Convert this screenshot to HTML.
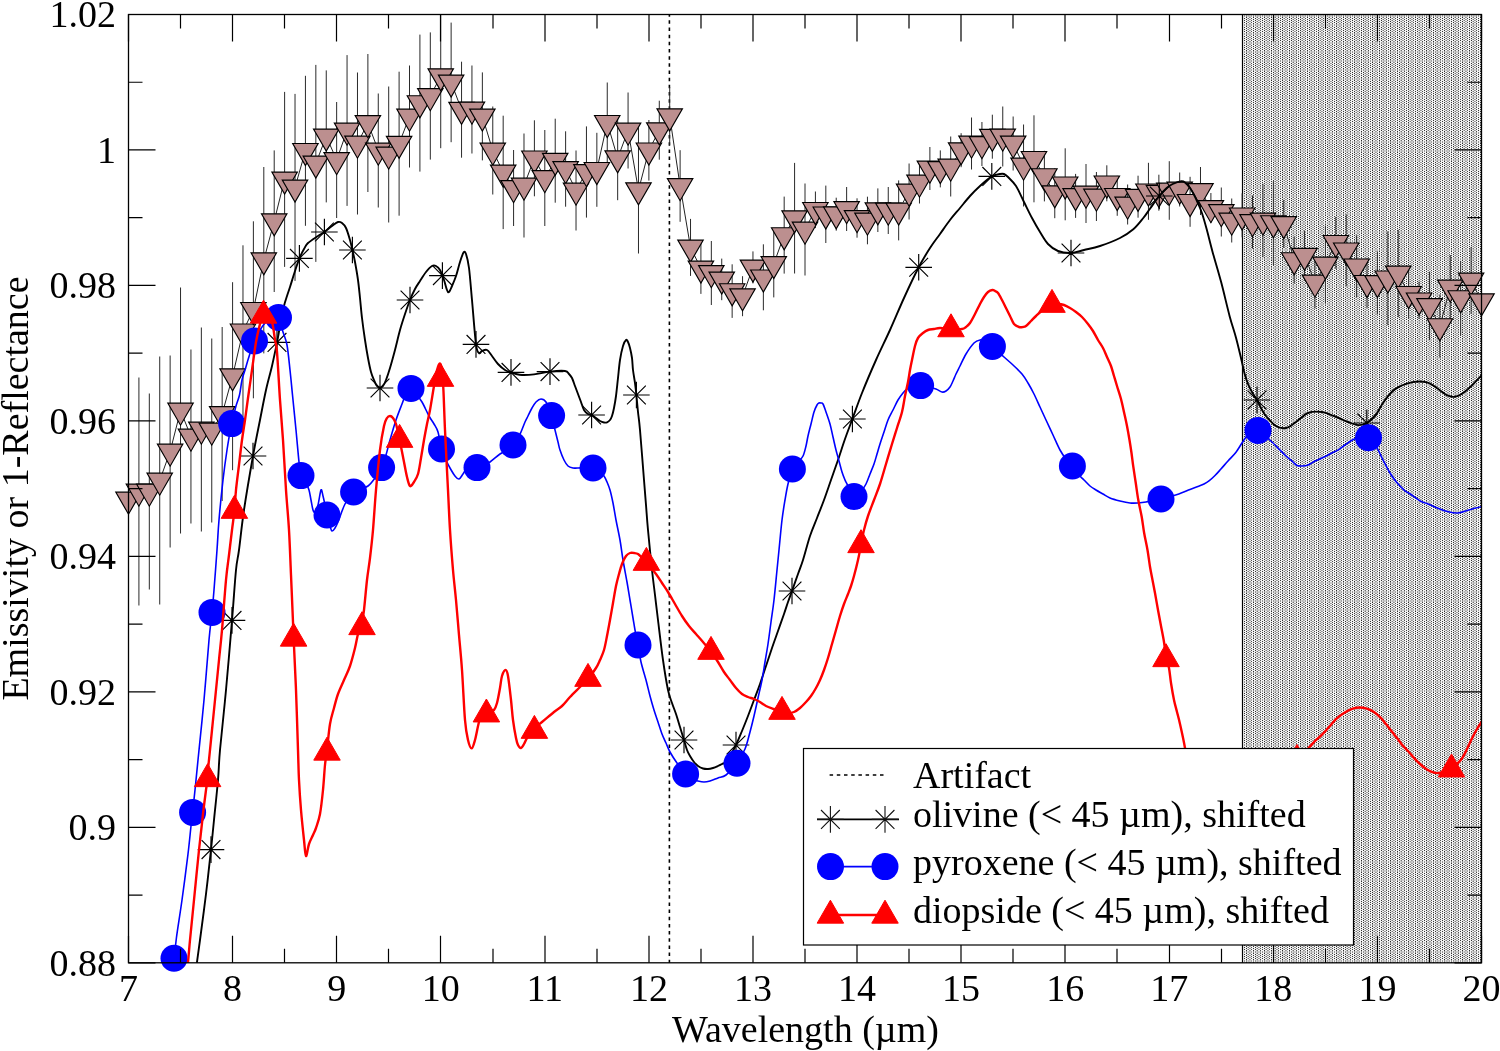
<!DOCTYPE html><html><head><meta charset="utf-8"><title>Emissivity spectrum</title><style>html,body{margin:0;padding:0;background:#fff;}svg{display:block;}text{font-family:"Liberation Serif","Times New Roman",serif;fill:#000;}</style></head><body>
<svg width="1500" height="1051" viewBox="0 0 1500 1051">
<defs>
<pattern id="dots" patternUnits="userSpaceOnUse" x="4" y="6" width="18" height="9" shape-rendering="crispEdges"><rect width="18" height="9" fill="#fff"/><rect x="0" y="0" width="1" height="1" fill="#939393"/><rect x="1" y="0" width="1" height="1" fill="#d7d7d7"/><rect x="2" y="0" width="1" height="1" fill="#b9b9b9"/><rect x="3" y="0" width="1" height="1" fill="#c4c4c4"/><rect x="4" y="0" width="1" height="1" fill="#cdcdcd"/><rect x="5" y="0" width="1" height="1" fill="#a7a7a7"/><rect x="6" y="0" width="1" height="1" fill="#f4f4f4"/><rect x="7" y="0" width="1" height="1" fill="#949494"/><rect x="8" y="0" width="1" height="1" fill="#f3f3f3"/><rect x="9" y="0" width="1" height="1" fill="#999999"/><rect x="10" y="0" width="1" height="1" fill="#d6d6d6"/><rect x="11" y="0" width="1" height="1" fill="#b5b5b5"/><rect x="12" y="0" width="1" height="1" fill="#c7c7c7"/><rect x="13" y="0" width="1" height="1" fill="#cfcfcf"/><rect x="14" y="0" width="1" height="1" fill="#a2a2a2"/><rect x="15" y="0" width="1" height="1" fill="#f4f4f4"/><rect x="16" y="0" width="1" height="1" fill="#9b9b9b"/><rect x="17" y="0" width="1" height="1" fill="#f3f3f3"/><rect x="0" y="1" width="1" height="1" fill="#939393"/><rect x="1" y="1" width="1" height="1" fill="#d7d7d7"/><rect x="2" y="1" width="1" height="1" fill="#b9b9b9"/><rect x="3" y="1" width="1" height="1" fill="#c4c4c4"/><rect x="4" y="1" width="1" height="1" fill="#cdcdcd"/><rect x="5" y="1" width="1" height="1" fill="#a7a7a7"/><rect x="6" y="1" width="1" height="1" fill="#f4f4f4"/><rect x="7" y="1" width="1" height="1" fill="#949494"/><rect x="8" y="1" width="1" height="1" fill="#f3f3f3"/><rect x="9" y="1" width="1" height="1" fill="#999999"/><rect x="10" y="1" width="1" height="1" fill="#d6d6d6"/><rect x="11" y="1" width="1" height="1" fill="#b5b5b5"/><rect x="12" y="1" width="1" height="1" fill="#c7c7c7"/><rect x="13" y="1" width="1" height="1" fill="#cfcfcf"/><rect x="14" y="1" width="1" height="1" fill="#a2a2a2"/><rect x="15" y="1" width="1" height="1" fill="#f4f4f4"/><rect x="16" y="1" width="1" height="1" fill="#9b9b9b"/><rect x="17" y="1" width="1" height="1" fill="#f3f3f3"/><rect x="0" y="2" width="1" height="1" fill="#2f2f2f"/><rect x="1" y="2" width="1" height="1" fill="#f1f1f1"/><rect x="2" y="2" width="1" height="1" fill="#f3f3f3"/><rect x="3" y="2" width="1" height="1" fill="#929292"/><rect x="4" y="2" width="1" height="1" fill="#a5a5a5"/><rect x="5" y="2" width="1" height="1" fill="#f3f3f3"/><rect x="6" y="2" width="1" height="1" fill="#f4f4f4"/><rect x="7" y="2" width="1" height="1" fill="#303030"/><rect x="8" y="2" width="1" height="1" fill="#f3f3f3"/><rect x="9" y="2" width="1" height="1" fill="#f2f2f2"/><rect x="10" y="2" width="1" height="1" fill="#b8b8b8"/><rect x="11" y="2" width="1" height="1" fill="#747474"/><rect x="12" y="2" width="1" height="1" fill="#f3f3f3"/><rect x="13" y="2" width="1" height="1" fill="#f2f2f2"/><rect x="14" y="2" width="1" height="1" fill="#4e4e4e"/><rect x="15" y="2" width="1" height="1" fill="#f4f4f4"/><rect x="16" y="2" width="1" height="1" fill="#f4f4f4"/><rect x="17" y="2" width="1" height="1" fill="#f3f3f3"/><rect x="0" y="3" width="1" height="1" fill="#eeeeee"/><rect x="1" y="3" width="1" height="1" fill="#b8b8b8"/><rect x="2" y="3" width="1" height="1" fill="#767676"/><rect x="3" y="3" width="1" height="1" fill="#f1f1f1"/><rect x="4" y="3" width="1" height="1" fill="#f1f1f1"/><rect x="5" y="3" width="1" height="1" fill="#505050"/><rect x="6" y="3" width="1" height="1" fill="#f4f4f4"/><rect x="7" y="3" width="1" height="1" fill="#f0f0f0"/><rect x="8" y="3" width="1" height="1" fill="#f3f3f3"/><rect x="9" y="3" width="1" height="1" fill="#323232"/><rect x="10" y="3" width="1" height="1" fill="#f0f0f0"/><rect x="11" y="3" width="1" height="1" fill="#f0f0f0"/><rect x="12" y="3" width="1" height="1" fill="#939393"/><rect x="13" y="3" width="1" height="1" fill="#a6a6a6"/><rect x="14" y="3" width="1" height="1" fill="#f0f0f0"/><rect x="15" y="3" width="1" height="1" fill="#f4f4f4"/><rect x="16" y="3" width="1" height="1" fill="#343434"/><rect x="17" y="3" width="1" height="1" fill="#f3f3f3"/><rect x="0" y="4" width="1" height="1" fill="#323232"/><rect x="1" y="4" width="1" height="1" fill="#f0f0f0"/><rect x="2" y="4" width="1" height="1" fill="#f0f0f0"/><rect x="3" y="4" width="1" height="1" fill="#939393"/><rect x="4" y="4" width="1" height="1" fill="#a6a6a6"/><rect x="5" y="4" width="1" height="1" fill="#f0f0f0"/><rect x="6" y="4" width="1" height="1" fill="#f4f4f4"/><rect x="7" y="4" width="1" height="1" fill="#343434"/><rect x="8" y="4" width="1" height="1" fill="#f3f3f3"/><rect x="9" y="4" width="1" height="1" fill="#eeeeee"/><rect x="10" y="4" width="1" height="1" fill="#b8b8b8"/><rect x="11" y="4" width="1" height="1" fill="#767676"/><rect x="12" y="4" width="1" height="1" fill="#f1f1f1"/><rect x="13" y="4" width="1" height="1" fill="#f1f1f1"/><rect x="14" y="4" width="1" height="1" fill="#505050"/><rect x="15" y="4" width="1" height="1" fill="#f4f4f4"/><rect x="16" y="4" width="1" height="1" fill="#f0f0f0"/><rect x="17" y="4" width="1" height="1" fill="#f3f3f3"/><rect x="0" y="5" width="1" height="1" fill="#eeeeee"/><rect x="1" y="5" width="1" height="1" fill="#b8b8b8"/><rect x="2" y="5" width="1" height="1" fill="#767676"/><rect x="3" y="5" width="1" height="1" fill="#f1f1f1"/><rect x="4" y="5" width="1" height="1" fill="#f1f1f1"/><rect x="5" y="5" width="1" height="1" fill="#505050"/><rect x="6" y="5" width="1" height="1" fill="#f4f4f4"/><rect x="7" y="5" width="1" height="1" fill="#f0f0f0"/><rect x="8" y="5" width="1" height="1" fill="#f3f3f3"/><rect x="9" y="5" width="1" height="1" fill="#323232"/><rect x="10" y="5" width="1" height="1" fill="#f0f0f0"/><rect x="11" y="5" width="1" height="1" fill="#f0f0f0"/><rect x="12" y="5" width="1" height="1" fill="#939393"/><rect x="13" y="5" width="1" height="1" fill="#a6a6a6"/><rect x="14" y="5" width="1" height="1" fill="#f0f0f0"/><rect x="15" y="5" width="1" height="1" fill="#f4f4f4"/><rect x="16" y="5" width="1" height="1" fill="#343434"/><rect x="17" y="5" width="1" height="1" fill="#f3f3f3"/><rect x="0" y="6" width="1" height="1" fill="#323232"/><rect x="1" y="6" width="1" height="1" fill="#f0f0f0"/><rect x="2" y="6" width="1" height="1" fill="#f0f0f0"/><rect x="3" y="6" width="1" height="1" fill="#939393"/><rect x="4" y="6" width="1" height="1" fill="#a6a6a6"/><rect x="5" y="6" width="1" height="1" fill="#f0f0f0"/><rect x="6" y="6" width="1" height="1" fill="#f4f4f4"/><rect x="7" y="6" width="1" height="1" fill="#343434"/><rect x="8" y="6" width="1" height="1" fill="#f3f3f3"/><rect x="9" y="6" width="1" height="1" fill="#eeeeee"/><rect x="10" y="6" width="1" height="1" fill="#b8b8b8"/><rect x="11" y="6" width="1" height="1" fill="#767676"/><rect x="12" y="6" width="1" height="1" fill="#f1f1f1"/><rect x="13" y="6" width="1" height="1" fill="#f1f1f1"/><rect x="14" y="6" width="1" height="1" fill="#505050"/><rect x="15" y="6" width="1" height="1" fill="#f4f4f4"/><rect x="16" y="6" width="1" height="1" fill="#f0f0f0"/><rect x="17" y="6" width="1" height="1" fill="#f3f3f3"/><rect x="0" y="7" width="1" height="1" fill="#eeeeee"/><rect x="1" y="7" width="1" height="1" fill="#b8b8b8"/><rect x="2" y="7" width="1" height="1" fill="#767676"/><rect x="3" y="7" width="1" height="1" fill="#f1f1f1"/><rect x="4" y="7" width="1" height="1" fill="#f1f1f1"/><rect x="5" y="7" width="1" height="1" fill="#505050"/><rect x="6" y="7" width="1" height="1" fill="#f4f4f4"/><rect x="7" y="7" width="1" height="1" fill="#f0f0f0"/><rect x="8" y="7" width="1" height="1" fill="#f3f3f3"/><rect x="9" y="7" width="1" height="1" fill="#323232"/><rect x="10" y="7" width="1" height="1" fill="#f0f0f0"/><rect x="11" y="7" width="1" height="1" fill="#f0f0f0"/><rect x="12" y="7" width="1" height="1" fill="#939393"/><rect x="13" y="7" width="1" height="1" fill="#a6a6a6"/><rect x="14" y="7" width="1" height="1" fill="#f0f0f0"/><rect x="15" y="7" width="1" height="1" fill="#f4f4f4"/><rect x="16" y="7" width="1" height="1" fill="#343434"/><rect x="17" y="7" width="1" height="1" fill="#f3f3f3"/><rect x="0" y="8" width="1" height="1" fill="#2f2f2f"/><rect x="1" y="8" width="1" height="1" fill="#f1f1f1"/><rect x="2" y="8" width="1" height="1" fill="#f3f3f3"/><rect x="3" y="8" width="1" height="1" fill="#929292"/><rect x="4" y="8" width="1" height="1" fill="#a5a5a5"/><rect x="5" y="8" width="1" height="1" fill="#f3f3f3"/><rect x="6" y="8" width="1" height="1" fill="#f4f4f4"/><rect x="7" y="8" width="1" height="1" fill="#303030"/><rect x="8" y="8" width="1" height="1" fill="#f3f3f3"/><rect x="9" y="8" width="1" height="1" fill="#f2f2f2"/><rect x="10" y="8" width="1" height="1" fill="#b8b8b8"/><rect x="11" y="8" width="1" height="1" fill="#747474"/><rect x="12" y="8" width="1" height="1" fill="#f3f3f3"/><rect x="13" y="8" width="1" height="1" fill="#f2f2f2"/><rect x="14" y="8" width="1" height="1" fill="#4e4e4e"/><rect x="15" y="8" width="1" height="1" fill="#f4f4f4"/><rect x="16" y="8" width="1" height="1" fill="#f4f4f4"/><rect x="17" y="8" width="1" height="1" fill="#f3f3f3"/></pattern>
<clipPath id="frame"><rect x="128.5" y="14.5" width="1353" height="948.3"/></clipPath>
</defs>
<rect width="1500" height="1051" fill="#fff"/>
<rect x="1242.5" y="14.5" width="239" height="948.3" fill="url(#dots)"/>
<line x1="1242.5" y1="14.5" x2="1242.5" y2="962.8" stroke="#000" stroke-width="1.2"/>
<line x1="669.4" y1="14.5" x2="669.4" y2="962.8" stroke="#000" stroke-width="1.6" stroke-dasharray="3.5 3.6714" stroke-dashoffset="1.3714"/>
<path d="M128.5,389.5V609.5M138.91,377.5V605.5M149.32,393.5V589.5M159.72,356.5V604.5M170.13,355.5V547.5M180.54,287.5V533.5M190.95,349.5V523.5M201.35,327.5V531.5M211.76,338.5V522.5M222.17,327V501M232.58,282.2V470.2M242.98,245.3V417.3M253.39,221.3V398.3M263.8,167V353.4M274.21,150.4V292M284.62,91.9V266.9M295.02,93.9V280.9M305.43,75.8V225.8M315.84,64.9V261.9M326.25,70.4V202.4M336.65,102V218M347.06,55.1V205.9M357.47,72.5V214.5M367.88,54V192M378.28,93.5V207.5M388.69,86.5V222.5M399.1,71.7V215.7M409.51,65.5V167.5M419.92,34.6V171.6M430.32,32.4V159.6M440.73,14.5V148.2M451.14,22.6V142.2M461.55,61.7V157.7M471.95,65.5V153.5M482.36,72.4V160.4M492.77,106.5V194.5M503.18,115.7V229.1M513.58,150V226M523.99,133.5V237.5M534.4,120.3V196.3M544.81,130V226M555.22,118.7V202.7M565.62,131.3V206.7M576.03,150.5V230.5M586.44,126.4V217.6M596.85,132.8V206.8M607.25,82.5V163.1M617.66,116.2V200.2M628.07,92.5V168.5M638.48,126.9V253.5M648.88,120V180.6M659.29,100.7V159.7M669.7,87.2V145.2M680.11,150.2V221.8M690.52,218.9V275.9M700.92,242.9V293.9M711.33,241V305M721.74,258.6V300.2M732.15,264.3V317.9M742.55,276.2V316.2M752.96,251.4V283.4M763.37,244.3V310.3M773.78,230.4V297.4M784.18,196.6V273.6M794.59,162.9V273.5M805,183.5V275.5M815.41,191.5V228.1M825.82,185.6V243M836.22,197.7V230.7M846.63,187V231M857.04,198.3V237.7M867.45,196.7V244.3M877.85,188.4V232M888.26,187V234M898.67,180.4V240.4M909.08,163.5V219.5M919.48,161.5V203.5M929.89,147V190M940.3,150.4V187.4M950.71,136.5V196.5M961.12,133.2V167.2M971.52,117.5V169.5M981.93,122V166M992.34,114.7V158.7M1002.75,106.5V166.5M1013.15,116.5V170.5M1023.56,124.5V206.5M1033.97,115.3V202.3M1044.38,150.8V201.4M1054.78,168.2V218.2M1065.19,148.3V220.3M1075.6,173.9V217.9M1086.01,164V223M1096.42,172V221M1106.82,165.3V201.3M1117.23,175.8V215.8M1127.64,184.5V224.5M1138.05,175.7V217.7M1148.45,162.8V219.8M1158.86,174.7V210.7M1169.27,161.2V219.8M1179.68,172.5V206.5M1190.08,176.8V226.8M1200.49,167V215M1210.9,193V223M1221.31,187.5V236.5M1231.72,198.5V242.5M1242.12,193.3V237.3M1252.53,195.4V248.6M1262.94,183.7V257.3M1273.35,181.1V265.1M1283.75,199.9V247.9M1294.16,236.6V283.6M1304.57,230.7V280.7M1314.98,256.5V308.5M1325.38,225.5V303.5M1335.79,216.8V268.8M1346.2,214.3V286.3M1356.61,235.3V297.3M1367.02,257.8V307.8M1377.42,251.4V314.4M1387.83,231.3V325.3M1398.24,229.7V317.3M1408.65,268.8V318.8M1419.05,281.6V319M1429.46,272V340M1439.87,294.6V357.6M1450.28,255V320M1460.68,260.8V335.4M1471.09,246.9V314.1M1481.5,276.2V326.2" stroke="#2a2a2a" stroke-width="1" fill="none"/>
<path d="M128.5,499.5 L138.91,491.5 L149.32,491.5 L159.72,480.5 L170.13,451.5 L180.54,410.5 L190.95,436.5 L201.35,429.5 L211.76,430.5 L222.17,414 L232.58,376.2 L242.98,331.3 L253.39,309.8 L263.8,260.2 L274.21,221.2 L284.62,179.4 L295.02,187.4 L305.43,150.8 L315.84,163.4 L326.25,136.4 L336.65,160 L347.06,130.5 L357.47,143.5 L367.88,123 L378.28,150.5 L388.69,154.5 L399.1,143.7 L409.51,116.5 L419.92,103.1 L430.32,96 L440.73,76.2 L451.14,82.4 L461.55,109.7 L471.95,109.5 L482.36,116.4 L492.77,150.5 L503.18,172.4 L513.58,188 L523.99,185.5 L534.4,158.3 L544.81,178 L555.22,160.7 L565.62,169 L576.03,190.5 L586.44,172 L596.85,169.8 L607.25,122.8 L617.66,158.2 L628.07,130.5 L638.48,190.2 L648.88,150.3 L659.29,130.2 L669.7,116.2 L680.11,186 L690.52,247.4 L700.92,268.4 L711.33,273 L721.74,279.4 L732.15,291.1 L742.55,296.2 L752.96,267.4 L763.37,277.3 L773.78,263.9 L784.18,235.1 L794.59,218.2 L805,229.5 L815.41,209.8 L825.82,214.3 L836.22,214.2 L846.63,209 L857.04,218 L867.45,220.5 L877.85,210.2 L888.26,210.5 L898.67,210.4 L909.08,191.5 L919.48,182.5 L929.89,168.5 L940.3,168.9 L950.71,166.5 L961.12,150.2 L971.52,143.5 L981.93,144 L992.34,136.7 L1002.75,136.5 L1013.15,143.5 L1023.56,165.5 L1033.97,158.8 L1044.38,176.1 L1054.78,193.2 L1065.19,184.3 L1075.6,195.9 L1086.01,193.5 L1096.42,196.5 L1106.82,183.3 L1117.23,195.8 L1127.64,204.5 L1138.05,196.7 L1148.45,191.3 L1158.86,192.7 L1169.27,190.5 L1179.68,189.5 L1190.08,201.8 L1200.49,191 L1210.9,208 L1221.31,212 L1231.72,220.5 L1242.12,215.3 L1252.53,222 L1262.94,220.5 L1273.35,223.1 L1283.75,223.9 L1294.16,260.1 L1304.57,255.7 L1314.98,282.5 L1325.38,264.5 L1335.79,242.8 L1346.2,250.3 L1356.61,266.3 L1367.02,282.8 L1377.42,282.9 L1387.83,278.3 L1398.24,273.5 L1408.65,293.8 L1419.05,300.3 L1429.46,306 L1439.87,326.1 L1450.28,287.5 L1460.68,298.1 L1471.09,280.5 L1481.5,301.2" stroke="#222" stroke-width="1" fill="none" clip-path="url(#frame)"/>
<g fill="#bc8f8f" stroke="#000" stroke-width="1.15" stroke-linejoin="miter">
<path d="M115.77,492.15 L141.23,492.15 L128.5,514.2 Z"/>
<path d="M126.18,484.15 L151.64,484.15 L138.91,506.2 Z"/>
<path d="M136.58,484.15 L162.05,484.15 L149.32,506.2 Z"/>
<path d="M146.99,473.15 L172.45,473.15 L159.72,495.2 Z"/>
<path d="M157.4,444.15 L182.86,444.15 L170.13,466.2 Z"/>
<path d="M167.81,403.15 L193.27,403.15 L180.54,425.2 Z"/>
<path d="M178.22,429.15 L203.68,429.15 L190.95,451.2 Z"/>
<path d="M188.62,422.15 L214.08,422.15 L201.35,444.2 Z"/>
<path d="M199.03,423.15 L224.49,423.15 L211.76,445.2 Z"/>
<path d="M209.44,406.65 L234.9,406.65 L222.17,428.7 Z"/>
<path d="M219.85,368.85 L245.31,368.85 L232.58,390.9 Z"/>
<path d="M230.25,323.95 L255.72,323.95 L242.98,346 Z"/>
<path d="M240.66,302.45 L266.12,302.45 L253.39,324.5 Z"/>
<path d="M251.07,252.85 L276.53,252.85 L263.8,274.9 Z"/>
<path d="M261.48,213.85 L286.94,213.85 L274.21,235.9 Z"/>
<path d="M271.88,172.05 L297.35,172.05 L284.62,194.1 Z"/>
<path d="M282.29,180.05 L307.75,180.05 L295.02,202.1 Z"/>
<path d="M292.7,143.45 L318.16,143.45 L305.43,165.5 Z"/>
<path d="M303.11,156.05 L328.57,156.05 L315.84,178.1 Z"/>
<path d="M313.52,129.05 L338.98,129.05 L326.25,151.1 Z"/>
<path d="M323.92,152.65 L349.38,152.65 L336.65,174.7 Z"/>
<path d="M334.33,123.15 L359.79,123.15 L347.06,145.2 Z"/>
<path d="M344.74,136.15 L370.2,136.15 L357.47,158.2 Z"/>
<path d="M355.15,115.65 L380.61,115.65 L367.88,137.7 Z"/>
<path d="M365.55,143.15 L391.02,143.15 L378.28,165.2 Z"/>
<path d="M375.96,147.15 L401.42,147.15 L388.69,169.2 Z"/>
<path d="M386.37,136.35 L411.83,136.35 L399.1,158.4 Z"/>
<path d="M396.78,109.15 L422.24,109.15 L409.51,131.2 Z"/>
<path d="M407.18,95.75 L432.65,95.75 L419.92,117.8 Z"/>
<path d="M417.59,88.65 L443.05,88.65 L430.32,110.7 Z"/>
<path d="M428,68.85 L453.46,68.85 L440.73,90.9 Z"/>
<path d="M438.41,75.05 L463.87,75.05 L451.14,97.1 Z"/>
<path d="M448.82,102.35 L474.28,102.35 L461.55,124.4 Z"/>
<path d="M459.22,102.15 L484.68,102.15 L471.95,124.2 Z"/>
<path d="M469.63,109.05 L495.09,109.05 L482.36,131.1 Z"/>
<path d="M480.04,143.15 L505.5,143.15 L492.77,165.2 Z"/>
<path d="M490.45,165.05 L515.91,165.05 L503.18,187.1 Z"/>
<path d="M500.85,180.65 L526.32,180.65 L513.58,202.7 Z"/>
<path d="M511.26,178.15 L536.72,178.15 L523.99,200.2 Z"/>
<path d="M521.67,150.95 L547.13,150.95 L534.4,173 Z"/>
<path d="M532.08,170.65 L557.54,170.65 L544.81,192.7 Z"/>
<path d="M542.48,153.35 L567.95,153.35 L555.22,175.4 Z"/>
<path d="M552.89,161.65 L578.35,161.65 L565.62,183.7 Z"/>
<path d="M563.3,183.15 L588.76,183.15 L576.03,205.2 Z"/>
<path d="M573.71,164.65 L599.17,164.65 L586.44,186.7 Z"/>
<path d="M584.12,162.45 L609.58,162.45 L596.85,184.5 Z"/>
<path d="M594.52,115.45 L619.98,115.45 L607.25,137.5 Z"/>
<path d="M604.93,150.85 L630.39,150.85 L617.66,172.9 Z"/>
<path d="M615.34,123.15 L640.8,123.15 L628.07,145.2 Z"/>
<path d="M625.75,182.85 L651.21,182.85 L638.48,204.9 Z"/>
<path d="M636.15,142.95 L661.62,142.95 L648.88,165 Z"/>
<path d="M646.56,122.85 L672.02,122.85 L659.29,144.9 Z"/>
<path d="M656.97,108.85 L682.43,108.85 L669.7,130.9 Z"/>
<path d="M667.38,178.65 L692.84,178.65 L680.11,200.7 Z"/>
<path d="M677.78,240.05 L703.25,240.05 L690.52,262.1 Z"/>
<path d="M688.19,261.05 L713.65,261.05 L700.92,283.1 Z"/>
<path d="M698.6,265.65 L724.06,265.65 L711.33,287.7 Z"/>
<path d="M709.01,272.05 L734.47,272.05 L721.74,294.1 Z"/>
<path d="M719.42,283.75 L744.88,283.75 L732.15,305.8 Z"/>
<path d="M729.82,288.85 L755.28,288.85 L742.55,310.9 Z"/>
<path d="M740.23,260.05 L765.69,260.05 L752.96,282.1 Z"/>
<path d="M750.64,269.95 L776.1,269.95 L763.37,292 Z"/>
<path d="M761.05,256.55 L786.51,256.55 L773.78,278.6 Z"/>
<path d="M771.45,227.75 L796.92,227.75 L784.18,249.8 Z"/>
<path d="M781.86,210.85 L807.32,210.85 L794.59,232.9 Z"/>
<path d="M792.27,222.15 L817.73,222.15 L805,244.2 Z"/>
<path d="M802.68,202.45 L828.14,202.45 L815.41,224.5 Z"/>
<path d="M813.08,206.95 L838.55,206.95 L825.82,229 Z"/>
<path d="M823.49,206.85 L848.95,206.85 L836.22,228.9 Z"/>
<path d="M833.9,201.65 L859.36,201.65 L846.63,223.7 Z"/>
<path d="M844.31,210.65 L869.77,210.65 L857.04,232.7 Z"/>
<path d="M854.72,213.15 L880.18,213.15 L867.45,235.2 Z"/>
<path d="M865.12,202.85 L890.58,202.85 L877.85,224.9 Z"/>
<path d="M875.53,203.15 L900.99,203.15 L888.26,225.2 Z"/>
<path d="M885.94,203.05 L911.4,203.05 L898.67,225.1 Z"/>
<path d="M896.35,184.15 L921.81,184.15 L909.08,206.2 Z"/>
<path d="M906.75,175.15 L932.22,175.15 L919.48,197.2 Z"/>
<path d="M917.16,161.15 L942.62,161.15 L929.89,183.2 Z"/>
<path d="M927.57,161.55 L953.03,161.55 L940.3,183.6 Z"/>
<path d="M937.98,159.15 L963.44,159.15 L950.71,181.2 Z"/>
<path d="M948.38,142.85 L973.85,142.85 L961.12,164.9 Z"/>
<path d="M958.79,136.15 L984.25,136.15 L971.52,158.2 Z"/>
<path d="M969.2,136.65 L994.66,136.65 L981.93,158.7 Z"/>
<path d="M979.61,129.35 L1005.07,129.35 L992.34,151.4 Z"/>
<path d="M990.02,129.15 L1015.48,129.15 L1002.75,151.2 Z"/>
<path d="M1000.42,136.15 L1025.88,136.15 L1013.15,158.2 Z"/>
<path d="M1010.83,158.15 L1036.29,158.15 L1023.56,180.2 Z"/>
<path d="M1021.24,151.45 L1046.7,151.45 L1033.97,173.5 Z"/>
<path d="M1031.65,168.75 L1057.11,168.75 L1044.38,190.8 Z"/>
<path d="M1042.05,185.85 L1067.52,185.85 L1054.78,207.9 Z"/>
<path d="M1052.46,176.95 L1077.92,176.95 L1065.19,199 Z"/>
<path d="M1062.87,188.55 L1088.33,188.55 L1075.6,210.6 Z"/>
<path d="M1073.28,186.15 L1098.74,186.15 L1086.01,208.2 Z"/>
<path d="M1083.68,189.15 L1109.15,189.15 L1096.42,211.2 Z"/>
<path d="M1094.09,175.95 L1119.55,175.95 L1106.82,198 Z"/>
<path d="M1104.5,188.45 L1129.96,188.45 L1117.23,210.5 Z"/>
<path d="M1114.91,197.15 L1140.37,197.15 L1127.64,219.2 Z"/>
<path d="M1125.32,189.35 L1150.78,189.35 L1138.05,211.4 Z"/>
<path d="M1135.72,183.95 L1161.18,183.95 L1148.45,206 Z"/>
<path d="M1146.13,185.35 L1171.59,185.35 L1158.86,207.4 Z"/>
<path d="M1156.54,183.15 L1182,183.15 L1169.27,205.2 Z"/>
<path d="M1166.95,182.15 L1192.41,182.15 L1179.68,204.2 Z"/>
<path d="M1177.35,194.45 L1202.82,194.45 L1190.08,216.5 Z"/>
<path d="M1187.76,183.65 L1213.22,183.65 L1200.49,205.7 Z"/>
<path d="M1198.17,200.65 L1223.63,200.65 L1210.9,222.7 Z"/>
<path d="M1208.58,204.65 L1234.04,204.65 L1221.31,226.7 Z"/>
<path d="M1218.98,213.15 L1244.45,213.15 L1231.72,235.2 Z"/>
<path d="M1229.39,207.95 L1254.85,207.95 L1242.12,230 Z"/>
<path d="M1239.8,214.65 L1265.26,214.65 L1252.53,236.7 Z"/>
<path d="M1250.21,213.15 L1275.67,213.15 L1262.94,235.2 Z"/>
<path d="M1260.62,215.75 L1286.08,215.75 L1273.35,237.8 Z"/>
<path d="M1271.02,216.55 L1296.48,216.55 L1283.75,238.6 Z"/>
<path d="M1281.43,252.75 L1306.89,252.75 L1294.16,274.8 Z"/>
<path d="M1291.84,248.35 L1317.3,248.35 L1304.57,270.4 Z"/>
<path d="M1302.25,275.15 L1327.71,275.15 L1314.98,297.2 Z"/>
<path d="M1312.65,257.15 L1338.12,257.15 L1325.38,279.2 Z"/>
<path d="M1323.06,235.45 L1348.52,235.45 L1335.79,257.5 Z"/>
<path d="M1333.47,242.95 L1358.93,242.95 L1346.2,265 Z"/>
<path d="M1343.88,258.95 L1369.34,258.95 L1356.61,281 Z"/>
<path d="M1354.28,275.45 L1379.75,275.45 L1367.02,297.5 Z"/>
<path d="M1364.69,275.55 L1390.15,275.55 L1377.42,297.6 Z"/>
<path d="M1375.1,270.95 L1400.56,270.95 L1387.83,293 Z"/>
<path d="M1385.51,266.15 L1410.97,266.15 L1398.24,288.2 Z"/>
<path d="M1395.92,286.45 L1421.38,286.45 L1408.65,308.5 Z"/>
<path d="M1406.32,292.95 L1431.78,292.95 L1419.05,315 Z"/>
<path d="M1416.73,298.65 L1442.19,298.65 L1429.46,320.7 Z"/>
<path d="M1427.14,318.75 L1452.6,318.75 L1439.87,340.8 Z"/>
<path d="M1437.55,280.15 L1463.01,280.15 L1450.28,302.2 Z"/>
<path d="M1447.95,290.75 L1473.42,290.75 L1460.68,312.8 Z"/>
<path d="M1458.36,273.15 L1483.82,273.15 L1471.09,295.2 Z"/>
<path d="M1468.77,293.85 L1494.23,293.85 L1481.5,315.9 Z"/>
</g>
<path d="M195,975C195.33,972.83 196.17,967.83 197,962C197.83,956.17 198.5,951.33 200,940C201.5,928.67 204.17,909.07 206,894C207.83,878.93 209.67,861.93 211,849.6C212.33,837.27 212.83,831.6 214,820C215.17,808.4 217,791.67 218,780C219,768.33 218.67,765 220,750C221.33,735 224,711.6 226,690C228,668.4 230.33,640.4 232,620.4C233.67,600.4 234.83,581.73 236,570C237.17,558.27 237.67,560 239,550C240.33,540 241.67,525.67 244,510C246.33,494.33 250.33,471 253,456C255.67,441 257.83,431 260,420C262.17,409 264,399 266,390C268,381 270.17,373.93 272,366C273.83,358.07 275.67,349.07 277,342.4C278.33,335.73 278.83,332.07 280,326C281.17,319.93 282.83,311 284,306C285.17,301 286,299.17 287,296C288,292.83 288.67,291.17 290,287C291.33,282.83 293.43,275.77 295,271C296.57,266.23 297.9,262.07 299.4,258.4C300.9,254.73 302.57,251.57 304,249C305.43,246.43 305.67,245.17 308,243C310.33,240.83 315.27,237.83 318,236C320.73,234.17 322.07,233.67 324.4,232C326.73,230.33 329.73,227.67 332,226C334.27,224.33 336.33,222.5 338,222C339.67,221.5 340.67,222 342,223C343.33,224 344.67,225.17 346,228C347.33,230.83 348.93,236.33 350,240C351.07,243.67 351.57,246.33 352.4,250C353.23,253.67 354.07,257 355,262C355.93,267 357.17,274 358,280C358.83,286 359.33,291.67 360,298C360.67,304.33 361.17,311 362,318C362.83,325 364,333.33 365,340C366,346.67 367,352.67 368,358C369,363.33 370,368.33 371,372C372,375.67 373,377.67 374,380C375,382.33 376,384.67 377,386C378,387.33 379,388 380,388C381,388 382,387.33 383,386C384,384.67 384.83,383 386,380C387.17,377 388.5,373 390,368C391.5,363 393.33,356.33 395,350C396.67,343.67 398.33,336 400,330C401.67,324 403.33,319 405,314C406.67,309 408.33,304.17 410,300C411.67,295.83 413.33,292.17 415,289C416.67,285.83 418.17,283.83 420,281C421.83,278.17 424,274.5 426,272C428,269.5 430.33,267 432,266C433.67,265 434.67,265.33 436,266C437.33,266.67 438.67,267.67 440,270C441.33,272.33 442.83,276.67 444,280C445.17,283.33 446.17,288 447,290C447.83,292 448.17,292.67 449,292C449.83,291.33 450.83,288.67 452,286C453.17,283.33 454.67,280 456,276C457.33,272 458.73,265.93 460,262C461.27,258.07 462.6,253.73 463.6,252.4C464.6,251.07 465.1,251.4 466,254C466.9,256.6 468,260.33 469,268C470,275.67 470.83,287.27 472,300C473.17,312.73 474.83,335.57 476,344.4C477.17,353.23 478,351.9 479,353C480,354.1 480.67,351.5 482,351C483.33,350.5 485.33,349.17 487,350C488.67,350.83 490.17,353.67 492,356C493.83,358.33 495.83,361.67 498,364C500.17,366.33 502.83,368.6 505,370C507.17,371.4 509.17,371.73 511,372.4C512.83,373.07 514.17,373.57 516,374C517.83,374.43 519,374.93 522,375C525,375.07 529.33,374.97 534,374.4C538.67,373.83 544.83,372.17 550,371.6C555.17,371.03 561.83,370.6 565,371C568.17,371.4 567.83,372.83 569,374C570.17,375.17 571,376 572,378C573,380 574,383.33 575,386C576,388.67 577,391.33 578,394C579,396.67 580,399.33 581,402C582,404.67 582.83,408 584,410C585.17,412 586.73,413.17 588,414C589.27,414.83 590.27,414.33 591.6,415C592.93,415.67 594.6,417 596,418C597.4,419 598.67,420.25 600,421C601.33,421.75 602.83,422.27 604,422.5C605.17,422.73 606,422.82 607,422.4C608,421.98 609.17,421.07 610,420C610.83,418.93 611.33,418 612,416C612.67,414 613.33,411.33 614,408C614.67,404.67 615.33,401 616,396C616.67,391 617.33,384 618,378C618.67,372 619.17,365.33 620,360C620.83,354.67 622,349.33 623,346C624,342.67 625.17,340.67 626,340C626.83,339.33 627.33,340.67 628,342C628.67,343.33 629.33,345.33 630,348C630.67,350.67 631.5,354.33 632,358C632.5,361.67 632.5,365.83 633,370C633.5,374.17 634.43,378.83 635,383C635.57,387.17 635.9,390.17 636.4,395C636.9,399.83 637.4,406.17 638,412C638.6,417.83 639,418.67 640,430C641,441.33 643,467.5 644,480C645,492.5 645.33,496.67 646,505C646.67,513.33 647,519.17 648,530C649,540.83 650.83,559.17 652,570C653.17,580.83 654,586.67 655,595C656,603.33 656.67,609.17 658,620C659.33,630.83 661.33,648.33 663,660C664.67,671.67 666.5,682.83 668,690C669.5,697.17 670.67,699 672,703C673.33,707 674.67,710 676,714C677.33,718 678.67,722.67 680,727C681.33,731.33 682.83,736.17 684,740C685.17,743.83 686,747.33 687,750C688,752.67 688.83,754 690,756C691.17,758 692.67,760.33 694,762C695.33,763.67 696.5,764.92 698,766C699.5,767.08 701.33,768 703,768.5C704.67,769 706.33,769.08 708,769C709.67,768.92 711.33,768.5 713,768C714.67,767.5 716.5,766.67 718,766C719.5,765.33 720.67,764.67 722,764C723.33,763.33 724.67,763.33 726,762C727.33,760.67 728.33,758.83 730,756C731.67,753.17 734,749.17 736,745C738,740.83 740,735.83 742,731C744,726.17 746,721.17 748,716C750,710.83 752,705.33 754,700C756,694.67 758,689.67 760,684C762,678.33 764,672 766,666C768,660 770,653.83 772,648C774,642.17 776,636.67 778,631C780,625.33 782.33,618.83 784,614C785.67,609.17 786.67,605.83 788,602C789.33,598.17 790.33,595.67 792,591C793.67,586.33 796.17,579.17 798,574C799.83,568.83 801,566.33 803,560C805,553.67 807.67,543 810,536C812.33,529 814.67,524 817,518C819.33,512 821.67,506.33 824,500C826.33,493.67 828.67,486.67 831,480C833.33,473.33 835.67,466.83 838,460C840.33,453.17 842.6,445.83 845,439C847.4,432.17 849.57,426.67 852.4,419C855.23,411.33 858.07,402.83 862,393C865.93,383.17 871.33,370.5 876,360C880.67,349.5 885.33,340.33 890,330C894.67,319.67 899.22,308.45 904,298C908.78,287.55 914.37,275.63 918.7,267.3C923.03,258.97 926.45,253.55 930,248C933.55,242.45 936.67,238.67 940,234C943.33,229.33 946.67,224.33 950,220C953.33,215.67 956.67,212 960,208C963.33,204 966.67,199.67 970,196C973.33,192.33 976.37,189.27 980,186C983.63,182.73 988.47,178.4 991.8,176.4C995.13,174.4 997.97,174.4 1000,174C1002.03,173.6 1002.67,173.5 1004,174C1005.33,174.5 1006,175 1008,177C1010,179 1013.33,181.83 1016,186C1018.67,190.17 1021.33,196.67 1024,202C1026.67,207.33 1029.33,213 1032,218C1034.67,223 1037.33,227.67 1040,232C1042.67,236.33 1045,240.83 1048,244C1051,247.17 1054.17,249.5 1058,251C1061.83,252.5 1066.67,253.17 1071,253C1075.33,252.83 1079.17,251.17 1084,250C1088.83,248.83 1094,248 1100,246C1106,244 1114.45,240.78 1120,238C1125.55,235.22 1129.42,232.63 1133.3,229.3C1137.18,225.97 1140.52,221.43 1143.3,218C1146.08,214.57 1147.33,212.37 1150,208.7C1152.67,205.03 1156.52,199.45 1159.3,196C1162.08,192.55 1164.47,190 1166.7,188C1168.93,186 1170.27,185.12 1172.7,184C1175.13,182.88 1179.2,181.52 1181.3,181.3C1183.4,181.08 1183.85,181.58 1185.3,182.7C1186.75,183.82 1188.55,186 1190,188C1191.45,190 1192.67,192.15 1194,194.7C1195.33,197.25 1196.67,200.2 1198,203.3C1199.33,206.4 1200.55,208.97 1202,213.3C1203.45,217.63 1204.92,222.78 1206.7,229.3C1208.48,235.82 1210.28,243.57 1212.7,252.4C1215.12,261.23 1218.37,271.63 1221.2,282.3C1224.03,292.97 1227.23,307.17 1229.7,316.4C1232.17,325.63 1234.12,330.77 1236,337.7C1237.88,344.63 1239.55,351.95 1241,358C1242.45,364.05 1243.53,369.67 1244.7,374C1245.87,378.33 1246.78,381 1248,384C1249.22,387 1250.5,389.33 1252,392C1253.5,394.67 1255.5,397.33 1257,400C1258.5,402.67 1259.5,405.33 1261,408C1262.5,410.67 1263.5,413 1266,416C1268.5,419 1272.67,424 1276,426C1279.33,428 1282.67,428.67 1286,428C1289.33,427.33 1292.33,424.5 1296,422C1299.67,419.5 1303.67,414.67 1308,413C1312.33,411.33 1317.67,411.5 1322,412C1326.33,412.5 1329.67,414.33 1334,416C1338.33,417.67 1343.93,420.48 1348,422C1352.07,423.52 1355.27,424.93 1358.4,425.1C1361.53,425.27 1364,424.52 1366.8,423C1369.6,421.48 1372.4,419.5 1375.2,416C1378,412.5 1380.33,406.43 1383.6,402C1386.87,397.57 1390.13,392.67 1394.8,389.4C1399.47,386.13 1406.23,383.57 1411.6,382.4C1416.97,381.23 1422.8,381.47 1427,382.4C1431.2,383.33 1433.3,385.78 1436.8,388C1440.3,390.22 1444.73,394.3 1448,395.7C1451.27,397.1 1453.13,397.45 1456.4,396.4C1459.67,395.35 1463.63,392.67 1467.6,389.4C1471.57,386.13 1477.47,379.7 1480.2,376.8C1482.93,373.9 1483.37,372.8 1484,372" stroke="#000" stroke-width="1.9" fill="none" stroke-linejoin="round" clip-path="url(#frame)"/>
<path d="M211,836.3v26.6M197.7,849.6h26.6M201.6,840.2l18.81,18.81M201.6,859l18.81,-18.81M232,607.1v26.6M218.7,620.4h26.6M222.6,611l18.81,18.81M222.6,629.8l18.81,-18.81M253,442.7v26.6M239.7,456h26.6M243.6,446.6l18.81,18.81M243.6,465.4l18.81,-18.81M277,329.1v26.6M263.7,342.4h26.6M267.6,333l18.81,18.81M267.6,351.8l18.81,-18.81M299.4,245.1v26.6M286.1,258.4h26.6M290,249l18.81,18.81M290,267.8l18.81,-18.81M324.4,218.7v26.6M311.1,232h26.6M315,222.6l18.81,18.81M315,241.4l18.81,-18.81M352.4,236.7v26.6M339.1,250h26.6M343,240.6l18.81,18.81M343,259.4l18.81,-18.81M380,374.7v26.6M366.7,388h26.6M370.6,378.6l18.81,18.81M370.6,397.4l18.81,-18.81M410,286.7v26.6M396.7,300h26.6M400.6,290.6l18.81,18.81M400.6,309.4l18.81,-18.81M442.4,262.3v26.6M429.1,275.6h26.6M433,266.2l18.81,18.81M433,285l18.81,-18.81M476,331.1v26.6M462.7,344.4h26.6M466.6,335l18.81,18.81M466.6,353.8l18.81,-18.81M511,359.1v26.6M497.7,372.4h26.6M501.6,363l18.81,18.81M501.6,381.8l18.81,-18.81M550,358.3v26.6M536.7,371.6h26.6M540.6,362.2l18.81,18.81M540.6,381l18.81,-18.81M591.6,401.7v26.6M578.3,415h26.6M582.2,405.6l18.81,18.81M582.2,424.4l18.81,-18.81M636.4,381.7v26.6M623.1,395h26.6M627,385.6l18.81,18.81M627,404.4l18.81,-18.81M684,726.7v26.6M670.7,740h26.6M674.6,730.6l18.81,18.81M674.6,749.4l18.81,-18.81M736,731.7v26.6M722.7,745h26.6M726.6,735.6l18.81,18.81M726.6,754.4l18.81,-18.81M792,577.7v26.6M778.7,591h26.6M782.6,581.6l18.81,18.81M782.6,600.4l18.81,-18.81M852.4,405.7v26.6M839.1,419h26.6M843,409.6l18.81,18.81M843,428.4l18.81,-18.81M918.7,254v26.6M905.4,267.3h26.6M909.3,257.9l18.81,18.81M909.3,276.7l18.81,-18.81M991.8,163.1v26.6M978.5,176.4h26.6M982.4,167l18.81,18.81M982.4,185.8l18.81,-18.81M1071,239.7v26.6M1057.7,253h26.6M1061.6,243.6l18.81,18.81M1061.6,262.4l18.81,-18.81M1159.3,182.7v26.6M1146,196h26.6M1149.9,186.6l18.81,18.81M1149.9,205.4l18.81,-18.81M1257,386.7v26.6M1243.7,400h26.6M1247.6,390.6l18.81,18.81M1247.6,409.4l18.81,-18.81M1366.8,409.7v26.6M1353.5,423h26.6M1357.4,413.6l18.81,18.81M1357.4,432.4l18.81,-18.81" stroke="#000" stroke-width="1.15" fill="none"/>
<path d="M172,975C172.4,972.17 173.67,964.17 174.4,958C175.13,951.83 175.13,947.67 176.4,938C177.67,928.33 180.07,914 182,900C183.93,886 186.5,866.33 188,854C189.5,841.67 190.23,832.93 191,826C191.77,819.07 191.93,818.4 192.6,812.4C193.27,806.4 194.1,798.73 195,790C195.9,781.27 196.5,775 198,760C199.5,745 202.17,720 204,700C205.83,680 207.67,654.6 209,640C210.33,625.4 211.17,620.73 212,612.4C212.83,604.07 213.17,600.4 214,590C214.83,579.6 216.17,561.67 217,550C217.83,538.33 218,531.67 219,520C220,508.33 221.67,491.67 223,480C224.33,468.33 225.57,459.4 227,450C228.43,440.6 230.1,430.93 231.6,423.6C233.1,416.27 234.68,410.77 236,406C237.32,401.23 238.5,399.33 239.5,395C240.5,390.67 241.08,384.17 242,380C242.92,375.83 243.75,374.17 245,370C246.25,365.83 247.92,359.83 249.5,355C251.08,350.17 252.75,345.17 254.5,341C256.25,336.83 258.08,333.17 260,330C261.92,326.83 264,324 266,322C268,320 269.92,318.75 272,318C274.08,317.25 276.67,315.17 278.5,317.5C280.33,319.83 281.58,327.42 283,332C284.42,336.58 285.83,338.67 287,345C288.17,351.33 289.08,361.67 290,370C290.92,378.33 291.5,385 292.5,395C293.5,405 294.92,418.83 296,430C297.08,441.17 298.17,454.4 299,462C299.83,469.6 299.83,472.1 301,475.6C302.17,479.1 304.67,480.6 306,483C307.33,485.4 308.17,487.17 309,490C309.83,492.83 310.33,496.67 311,500C311.67,503.33 312.33,508 313,510C313.67,512 314.17,512.83 315,512C315.83,511.17 317,508.67 318,505C319,501.33 320.17,491.5 321,490C321.83,488.5 322.33,493.5 323,496C323.67,498.5 324.33,501.83 325,505C325.67,508.17 326.17,511.5 327,515C327.83,518.5 329.17,523.33 330,526C330.83,528.67 331.17,530.67 332,531C332.83,531.33 334,529.5 335,528C336,526.5 336.33,526 338,522C339.67,518 342.4,509 345,504C347.6,499 351.1,494.5 353.6,492C356.1,489.5 357.6,490 360,489C362.4,488 365.5,487.83 368,486C370.5,484.17 372.73,481.07 375,478C377.27,474.93 379.77,471.43 381.6,467.6C383.43,463.77 384.6,459.6 386,455C387.4,450.4 388.33,445.83 390,440C391.67,434.17 394,426 396,420C398,414 400.33,408.33 402,404C403.67,399.67 404.5,396.6 406,394C407.5,391.4 409.33,388.4 411,388.4C412.67,388.4 414.17,391.73 416,394C417.83,396.27 419.83,398.33 422,402C424.17,405.67 427,412.33 429,416C431,419.67 432.5,421.33 434,424C435.5,426.67 436.75,427.83 438,432C439.25,436.17 440.17,444.33 441.5,449C442.83,453.67 444.58,456.83 446,460C447.42,463.17 448.5,465.33 450,468C451.5,470.67 453.5,474.17 455,476C456.5,477.83 457.67,479.33 459,479C460.33,478.67 461.67,475.67 463,474C464.33,472.33 464.67,470.07 467,469C469.33,467.93 474,468.43 477,467.6C480,466.77 482.83,464.93 485,464C487.17,463.07 487.5,463.67 490,462C492.5,460.33 497.17,456 500,454C502.83,452 504.83,451.5 507,450C509.17,448.5 511.17,447 513,445C514.83,443 516.67,440.17 518,438C519.33,435.83 519.83,434.67 521,432C522.17,429.33 523.83,424.67 525,422C526.17,419.33 526.83,418.33 528,416C529.17,413.67 530.67,410.33 532,408C533.33,405.67 534.5,403.5 536,402C537.5,400.5 539.33,399 541,399C542.67,399 544.23,399.23 546,402C547.77,404.77 550.1,410.93 551.6,415.6C553.1,420.27 553.93,425.6 555,430C556.07,434.4 557.17,438.67 558,442C558.83,445.33 559,447 560,450C561,453 562.67,457.33 564,460C565.33,462.67 566.5,464.67 568,466C569.5,467.33 571.33,467.67 573,468C574.67,468.33 574.67,468 578,468C581.33,468 589.33,467.33 593,468C596.67,468.67 598.17,470.67 600,472C601.83,473.33 602.83,474.33 604,476C605.17,477.67 606,479.67 607,482C608,484.33 609,486.5 610,490C611,493.5 612,498 613,503C614,508 614.83,513.83 616,520C617.17,526.17 618.83,533.33 620,540C621.17,546.67 621.83,553 623,560C624.17,567 625.83,575.33 627,582C628.17,588.67 629,594 630,600C631,606 632.17,613 633,618C633.83,623 634.17,625.5 635,630C635.83,634.5 637,639.67 638,645C639,650.33 639.67,656.17 641,662C642.33,667.83 644.5,674.33 646,680C647.5,685.67 648.67,691 650,696C651.33,701 652.67,705.67 654,710C655.33,714.33 656.67,718 658,722C659.33,726 660.67,730.5 662,734C663.33,737.5 664.67,740 666,743C667.33,746 668.17,748.67 670,752C671.83,755.33 674.4,759.33 677,763C679.6,766.67 683.1,771.33 685.6,774C688.1,776.67 689.93,777.83 692,779C694.07,780.17 696,780.5 698,781C700,781.5 702,782 704,782C706,782 707.67,781.67 710,781C712.33,780.33 715.33,779 718,778C720.67,777 722.83,777.5 726,775C729.17,772.5 733.83,767.33 737,763C740.17,758.67 742.83,754.17 745,749C747.17,743.83 748.5,737.5 750,732C751.5,726.5 752.67,721.67 754,716C755.33,710.33 756.67,704 758,698C759.33,692 760.83,686 762,680C763.17,674 764,668 765,662C766,656 767,650.67 768,644C769,637.33 770,629.33 771,622C772,614.67 773,608.67 774,600C775,591.33 776.17,578.33 777,570C777.83,561.67 778.17,558.33 779,550C779.83,541.67 781,528.33 782,520C783,511.67 784,506 785,500C786,494 786.77,489.17 788,484C789.23,478.83 790.73,472.67 792.4,469C794.07,465.33 796.23,464.17 798,462C799.77,459.83 801.67,458.67 803,456C804.33,453.33 805.17,449.33 806,446C806.83,442.67 807.17,439.67 808,436C808.83,432.33 810,428 811,424C812,420 813,415.17 814,412C815,408.83 816.17,406.5 817,405C817.83,403.5 818.33,403.33 819,403C819.67,402.67 820.33,402.83 821,403C821.67,403.17 822.17,402.5 823,404C823.83,405.5 824.83,408.67 826,412C827.17,415.33 828.83,419.83 830,424C831.17,428.17 832,432.67 833,437C834,441.33 835,446 836,450C837,454 838,457.33 839,461C840,464.67 841,468.83 842,472C843,475.17 844.17,478 845,480C845.83,482 845.5,481.23 847,484C848.5,486.77 851.83,495.1 854,496.6C856.17,498.1 858,495.1 860,493C862,490.9 864.33,487.17 866,484C867.67,480.83 868.67,477.33 870,474C871.33,470.67 872.83,467.33 874,464C875.17,460.67 876,457.33 877,454C878,450.67 878.83,447.67 880,444C881.17,440.33 882.67,436 884,432C885.33,428 886.5,423.67 888,420C889.5,416.33 891.33,413.33 893,410C894.67,406.67 896.33,402.83 898,400C899.67,397.17 901.5,394.83 903,393C904.5,391.17 905.33,390.17 907,389C908.67,387.83 910.73,386.57 913,386C915.27,385.43 918.1,385.43 920.6,385.6C923.1,385.77 925.43,386.43 928,387C930.57,387.57 933.67,388.17 936,389C938.33,389.83 940.33,391.67 942,392C943.67,392.33 944.67,391.83 946,391C947.33,390.17 948.83,388.67 950,387C951.17,385.33 952,383.17 953,381C954,378.83 954.83,376.5 956,374C957.17,371.5 958.33,369.33 960,366C961.67,362.67 963.67,357.83 966,354C968.33,350.17 971.67,345.33 974,343C976.33,340.67 978.17,340.33 980,340C981.83,339.67 982.93,339.93 985,341C987.07,342.07 989.23,343.73 992.4,346.4C995.57,349.07 1000.57,353.9 1004,357C1007.43,360.1 1010,362.17 1013,365C1016,367.83 1019.5,371 1022,374C1024.5,377 1026,379.67 1028,383C1030,386.33 1032,390 1034,394C1036,398 1038,402.67 1040,407C1042,411.33 1043.83,415.33 1046,420C1048.17,424.67 1050.67,430 1053,435C1055.33,440 1057.83,446 1060,450C1062.17,454 1063.93,456.33 1066,459C1068.07,461.67 1070.4,463.5 1072.4,466C1074.4,468.5 1076.07,471.67 1078,474C1079.93,476.33 1082,478 1084,480C1086,482 1088,484.33 1090,486C1092,487.67 1093.83,488.67 1096,490C1098.17,491.33 1100.67,492.67 1103,494C1105.33,495.33 1107.17,496.83 1110,498C1112.83,499.17 1116.67,500.17 1120,501C1123.33,501.83 1127,502.67 1130,503C1133,503.33 1135.33,503.17 1138,503C1140.67,502.83 1143.5,502.5 1146,502C1148.5,501.5 1150.5,500.5 1153,500C1155.5,499.5 1158.5,499.5 1161,499C1163.5,498.5 1165.03,497.83 1168,497C1170.97,496.17 1175.13,495.25 1178.8,494C1182.47,492.75 1186.82,490.75 1190,489.5C1193.18,488.25 1195.57,487.42 1197.9,486.5C1200.23,485.58 1202.1,484.97 1204,484C1205.9,483.03 1207.47,482.12 1209.3,480.7C1211.13,479.28 1213.1,477.4 1215,475.5C1216.9,473.6 1218.53,471.72 1220.7,469.3C1222.87,466.88 1225.45,463.85 1228,461C1230.55,458.15 1233.67,455.2 1236,452.2C1238.33,449.2 1240,445.87 1242,443C1244,440.13 1245.33,437.1 1248,435C1250.67,432.9 1255.17,430.23 1258,430.4C1260.83,430.57 1262.67,434.07 1265,436C1267.33,437.93 1269.67,439.83 1272,442C1274.33,444.17 1276.67,446.67 1279,449C1281.33,451.33 1283.67,453.83 1286,456C1288.33,458.17 1291.17,460.42 1293,462C1294.83,463.58 1295.5,464.83 1297,465.5C1298.5,466.17 1300.17,466.08 1302,466C1303.83,465.92 1305.83,465.83 1308,465C1310.17,464.17 1312.67,462.17 1315,461C1317.33,459.83 1319.5,459.17 1322,458C1324.5,456.83 1327.2,455.4 1330,454C1332.8,452.6 1336.3,451.1 1338.8,449.6C1341.3,448.1 1342.67,446.63 1345,445C1347.33,443.37 1350.3,441.13 1352.8,439.8C1355.3,438.47 1357.38,437.35 1360,437C1362.62,436.65 1366.17,436.7 1368.5,437.7C1370.83,438.7 1372.42,441.02 1374,443C1375.58,444.98 1376.67,447.1 1378,449.6C1379.33,452.1 1380.6,455.2 1382,458C1383.4,460.8 1385.07,463.9 1386.4,466.4C1387.73,468.9 1388.37,470.43 1390,473C1391.63,475.57 1393.75,478.85 1396.2,481.8C1398.65,484.75 1402.37,488.67 1404.7,490.7C1407.03,492.73 1407.53,492.23 1410.2,494C1412.87,495.77 1417.9,499.72 1420.7,501.3C1423.5,502.88 1424.33,502.43 1427,503.5C1429.67,504.57 1433.32,506.37 1436.7,507.7C1440.08,509.03 1443.75,510.62 1447.3,511.5C1450.85,512.38 1454.43,513.25 1458,513C1461.57,512.75 1465.7,510.83 1468.7,510C1471.7,509.17 1473.45,508.67 1476,508C1478.55,507.33 1482.67,506.33 1484,506" stroke="#0000ff" stroke-width="1.6" fill="none" stroke-linejoin="round" clip-path="url(#frame)"/>
<g fill="#0000ff">
<circle cx="174" cy="958.2" r="13.5"/>
<circle cx="192.6" cy="812.4" r="13.5"/>
<circle cx="212" cy="612.4" r="13.5"/>
<circle cx="231.6" cy="423.6" r="13.5"/>
<circle cx="254.5" cy="341" r="13.5"/>
<circle cx="278.5" cy="317.5" r="13.5"/>
<circle cx="301" cy="475.6" r="13.5"/>
<circle cx="327" cy="515" r="13.5"/>
<circle cx="353.6" cy="492" r="13.5"/>
<circle cx="381.6" cy="467.6" r="13.5"/>
<circle cx="411" cy="388.4" r="13.5"/>
<circle cx="441.5" cy="449" r="13.5"/>
<circle cx="477" cy="467.6" r="13.5"/>
<circle cx="513" cy="445" r="13.5"/>
<circle cx="551.6" cy="415.6" r="13.5"/>
<circle cx="593" cy="468" r="13.5"/>
<circle cx="638" cy="645" r="13.5"/>
<circle cx="685.6" cy="774" r="13.5"/>
<circle cx="737" cy="763.3" r="13.5"/>
<circle cx="792.4" cy="469" r="13.5"/>
<circle cx="854" cy="496.6" r="13.5"/>
<circle cx="920.6" cy="385.6" r="13.5"/>
<circle cx="992.4" cy="346.4" r="13.5"/>
<circle cx="1072.4" cy="466" r="13.5"/>
<circle cx="1161" cy="499" r="13.5"/>
<circle cx="1258" cy="430.4" r="13.5"/>
<circle cx="1368.5" cy="437.7" r="13.5"/>
</g>
<path d="M186,975C186.33,972.83 187.33,967.83 188,962C188.67,956.17 189,950.33 190,940C191,929.67 192.5,915 194,900C195.5,885 197.5,864.33 199,850C200.5,835.67 201.83,824 203,814C204.17,804 205.23,795.83 206,790C206.77,784.17 207.27,782.33 207.6,779C207.93,775.67 207.6,774.83 208,770C208.4,765.17 209.17,758.33 210,750C210.83,741.67 212,730 213,720C214,710 215,700 216,690C217,680 218,670 219,660C220,650 220.83,643.33 222,630C223.17,616.67 224.83,592.5 226,580C227.17,567.5 228,563.33 229,555C230,546.67 231.1,537.33 232,530C232.9,522.67 233.73,517.67 234.4,511C235.07,504.33 235.23,497.67 236,490C236.77,482.33 238,473.33 239,465C240,456.67 241,447.5 242,440C243,432.5 244,427 245,420C246,413 246.83,406.33 248,398C249.17,389.67 250.67,379.33 252,370C253.33,360.67 254.67,349.67 256,342C257.33,334.33 258.67,329.33 260,324C261.33,318.67 262.67,312 264,310C265.33,308 266.58,309.67 268,312C269.42,314.33 271.33,319.33 272.5,324C273.67,328.67 274.25,335.33 275,340C275.75,344.67 276.17,342 277,352C277.83,362 279,385.33 280,400C281,414.67 282,425 283,440C284,455 285,475 286,490C287,505 288.17,515.83 289,530C289.83,544.17 290.33,559.67 291,575C291.67,590.33 292.57,611.42 293,622C293.43,632.58 293.43,634.5 293.6,638.5C293.77,642.5 293.6,637.42 294,646C294.4,654.58 295.33,672.67 296,690C296.67,707.33 297.5,735 298,750C298.5,765 298.5,770 299,780C299.5,790 300.17,800 301,810C301.83,820 303.17,832.33 304,840C304.83,847.67 305.17,855.33 306,856C306.83,856.67 307.83,847.5 309,844C310.17,840.5 311.83,837.67 313,835C314.17,832.33 314.83,831.5 316,828C317.17,824.5 318.83,820.33 320,814C321.17,807.67 322.17,798.17 323,790C323.83,781.83 324.33,771.67 325,765C325.67,758.33 326.17,756.83 327,750C327.83,743.17 328.83,731 330,724C331.17,717 332.67,713 334,708C335.33,703 336.33,698.67 338,694C339.67,689.33 342,684.67 344,680C346,675.33 348.17,671.33 350,666C351.83,660.67 353.67,653.33 355,648C356.33,642.67 356.83,638.33 358,634C359.17,629.67 361,626 362,622C363,618 363.17,617 364,610C364.83,603 366,588.67 367,580C368,571.33 369,566.33 370,558C371,549.67 372,541.33 373,530C374,518.67 374.83,503.33 376,490C377.17,476.67 378.67,460.67 380,450C381.33,439.33 382.83,431.33 384,426C385.17,420.67 386,419.67 387,418C388,416.33 389,416 390,416C391,416 392,416.67 393,418C394,419.33 394.9,420.38 396,424C397.1,427.62 398.27,433.37 399.6,439.7C400.93,446.03 402.77,455.78 404,462C405.23,468.22 406,473 407,477C408,481 408.83,485.17 410,486C411.17,486.83 412.67,484 414,482C415.33,480 416.83,478 418,474C419.17,470 420,463.67 421,458C422,452.33 423,445.67 424,440C425,434.33 426,429 427,424C428,419 428.83,416.33 430,410C431.17,403.67 432.83,392.67 434,386C435.17,379.33 435.92,373.67 437,370C438.08,366.33 439.5,362 440.5,364C441.5,366 442.25,371 443,382C443.75,393 444.17,412 445,430C445.83,448 447.17,473.33 448,490C448.83,506.67 449.17,516.67 450,530C450.83,543.33 452,558.33 453,570C454,581.67 455,589.17 456,600C457,610.83 458,623.33 459,635C460,646.67 461,655.83 462,670C463,684.17 464,708.33 465,720C466,731.67 466.9,735.27 468,740C469.1,744.73 470.43,748.4 471.6,748.4C472.77,748.4 473.77,744.4 475,740C476.23,735.6 477.67,726.67 479,722C480.33,717.33 481.77,713.67 483,712C484.23,710.33 485.23,712 486.4,712C487.57,712 488.73,712.33 490,712C491.27,711.67 492.83,711.5 494,710C495.17,708.5 496,706.67 497,703C498,699.33 499.17,692.5 500,688C500.83,683.5 501.07,679 502,676C502.93,673 504.6,670 505.6,670C506.6,670 507.1,671 508,676C508.9,681 510.17,692.67 511,700C511.83,707.33 512.17,713.67 513,720C513.83,726.33 515.17,733.83 516,738C516.83,742.17 517.17,743.33 518,745C518.83,746.67 520,748.17 521,748C522,747.83 522.83,746 524,744C525.17,742 526.27,738.67 528,736C529.73,733.33 532.07,730.33 534.4,728C536.73,725.67 538.73,724.67 542,722C545.27,719.33 550.67,714.67 554,712C557.33,709.33 559.33,708.5 562,706C564.67,703.5 567,700.17 570,697C573,693.83 577,690 580,687C583,684 585.33,682.17 588,679C590.67,675.83 594,671.17 596,668C598,664.83 598.67,663 600,660C601.33,657 602.83,654 604,650C605.17,646 606,641 607,636C608,631 609,625.5 610,620C611,614.5 612,608.67 613,603C614,597.33 615,590.83 616,586C617,581.17 618,577.67 619,574C620,570.33 620.83,567 622,564C623.17,561 624.67,557.83 626,556C627.33,554.17 628.67,553.5 630,553C631.33,552.5 632.67,552.83 634,553C635.33,553.17 636.67,553.17 638,554C639.33,554.83 640.6,556.5 642,558C643.4,559.5 645.07,561.5 646.4,563C647.73,564.5 648.4,565.17 650,567C651.6,568.83 654,571.33 656,574C658,576.67 660,580 662,583C664,586 665.83,588.5 668,592C670.17,595.5 672.67,600 675,604C677.33,608 679.67,612.33 682,616C684.33,619.67 686.67,623 689,626C691.33,629 693.67,631.33 696,634C698.33,636.67 700.5,639.05 703,642C705.5,644.95 708.5,648.37 711,651.7C713.5,655.03 715.83,658.62 718,662C720.17,665.38 722,669 724,672C726,675 728,677.33 730,680C732,682.67 734,685.67 736,688C738,690.33 740,692.5 742,694C744,695.5 746,696.17 748,697C750,697.83 752,698.17 754,699C756,699.83 758,700.83 760,702C762,703.17 763.67,704.83 766,706C768.33,707.17 771.33,708.05 774,709C776.67,709.95 779.67,711.03 782,711.7C784.33,712.37 786,712.95 788,713C790,713.05 792,712.83 794,712C796,711.17 798,709.67 800,708C802,706.33 804.17,704 806,702C807.83,700 809.33,698.33 811,696C812.67,693.67 814.5,690.67 816,688C817.5,685.33 818.67,683 820,680C821.33,677 822.67,673.67 824,670C825.33,666.33 826.67,662.33 828,658C829.33,653.67 830.67,648.67 832,644C833.33,639.33 834.67,634.67 836,630C837.33,625.33 838.67,620.33 840,616C841.33,611.67 842.67,607.67 844,604C845.33,600.33 846.83,597 848,594C849.17,591 850,589 851,586C852,583 852.83,580.33 854,576C855.17,571.67 856.83,565.17 858,560C859.17,554.83 860,550 861,545C862,540 862.83,534.83 864,530C865.17,525.17 866.33,521 868,516C869.67,511 872,505.33 874,500C876,494.67 878,490 880,484C882,478 884,470.67 886,464C888,457.33 890.17,450 892,444C893.83,438 895.33,433.33 897,428C898.67,422.67 900.67,417.33 902,412C903.33,406.67 904,401 905,396C906,391 907.17,386.33 908,382C908.83,377.67 909.33,373.67 910,370C910.67,366.33 911.17,364 912,360C912.83,356 914,349.67 915,346C916,342.33 916.67,340.17 918,338C919.33,335.83 921.33,334.33 923,333C924.67,331.67 926.17,330.67 928,330C929.83,329.33 932,329.33 934,329C936,328.67 937.17,328 940,328C942.83,328 947.33,328.83 951,329C954.67,329.17 959.5,329.33 962,329C964.5,328.67 964.67,328 966,327C967.33,326 968.5,325.17 970,323C971.5,320.83 973.33,317.17 975,314C976.67,310.83 978.5,306.83 980,304C981.5,301.17 982.67,299 984,297C985.33,295 986.6,293.17 988,292C989.4,290.83 991.23,290.17 992.4,290C993.57,289.83 994.07,290.5 995,291C995.93,291.5 996.83,291.5 998,293C999.17,294.5 1000.67,297.5 1002,300C1003.33,302.5 1004.67,305.33 1006,308C1007.33,310.67 1008.67,313.33 1010,316C1011.33,318.67 1012.5,322.17 1014,324C1015.5,325.83 1017.5,326.5 1019,327C1020.5,327.5 1021.83,327.17 1023,327C1024.17,326.83 1024.67,327 1026,326C1027.33,325 1029.33,322.67 1031,321C1032.67,319.33 1033.83,318 1036,316C1038.17,314 1041.33,310.88 1044,309C1046.67,307.12 1049.67,305.53 1052,304.7C1054.33,303.87 1056,303.95 1058,304C1060,304.05 1062,304.33 1064,305C1066,305.67 1068,306.83 1070,308C1072,309.17 1074,310.5 1076,312C1078,313.5 1080,315 1082,317C1084,319 1086.17,321.67 1088,324C1089.83,326.33 1091.33,328.33 1093,331C1094.67,333.67 1096.33,337.17 1098,340C1099.67,342.83 1101.5,345.17 1103,348C1104.5,350.83 1105.67,354 1107,357C1108.33,360 1109.83,362.83 1111,366C1112.17,369.17 1113,372.67 1114,376C1115,379.33 1115.83,382.17 1117,386C1118.17,389.83 1119.8,394.5 1121,399C1122.2,403.5 1123.2,408.5 1124.2,413C1125.2,417.5 1126.12,421.5 1127,426C1127.88,430.5 1128.75,435.5 1129.5,440C1130.25,444.5 1130.87,448.55 1131.5,453C1132.13,457.45 1132.58,461.65 1133.3,466.7C1134.02,471.75 1134.97,477.75 1135.8,483.3C1136.63,488.85 1137.32,494.43 1138.3,500C1139.28,505.57 1140.72,511.15 1141.7,516.7C1142.68,522.25 1143.23,527.75 1144.2,533.3C1145.17,538.85 1146.53,544.43 1147.5,550C1148.47,555.57 1149.17,561.7 1150,566.7C1150.83,571.7 1151.67,575.62 1152.5,580C1153.33,584.38 1154.08,588 1155,593C1155.92,598 1157,604.5 1158,610C1159,615.5 1160,620.67 1161,626C1162,631.33 1163.17,636.83 1164,642C1164.83,647.17 1165.17,652.67 1166,657C1166.83,661.33 1168.17,663.67 1169,668C1169.83,672.33 1170.17,677.67 1171,683C1171.83,688.33 1173,695.17 1174,700C1175,704.83 1176,708 1177,712C1178,716 1178.67,718 1180,724C1181.33,730 1183.33,738.67 1185,748C1186.67,757.33 1187.5,766.33 1190,780C1192.5,793.67 1195,815 1200,830C1205,845 1211.67,865 1220,870C1228.33,875 1240.83,871.67 1250,860C1259.17,848.33 1268.33,815.83 1275,800C1281.67,784.17 1286.33,772 1290,765C1293.67,758 1294.83,760.17 1297,758C1299.17,755.83 1301.17,753.57 1303,752C1304.83,750.43 1306,750.43 1308,748.6C1310,746.77 1312.67,743.33 1315,741C1317.33,738.67 1319.67,736.93 1322,734.6C1324.33,732.27 1326.67,729.57 1329,727C1331.33,724.43 1333.5,721.53 1336,719.2C1338.5,716.87 1341.2,714.75 1344,713C1346.8,711.25 1350.13,709.62 1352.8,708.7C1355.47,707.78 1357.67,707.5 1360,707.5C1362.33,707.5 1364.47,707.95 1366.8,708.7C1369.13,709.45 1371.67,710.48 1374,712C1376.33,713.52 1378.8,715.8 1380.8,717.8C1382.8,719.8 1384.13,721.67 1386,724C1387.87,726.33 1390.17,729.47 1392,731.8C1393.83,734.13 1395.37,735.9 1397,738C1398.63,740.1 1399.97,742.23 1401.8,744.4C1403.63,746.57 1405.9,748.67 1408,751C1410.1,753.33 1412.4,756.23 1414.4,758.4C1416.4,760.57 1417.9,762.13 1420,764C1422.1,765.87 1425,768.27 1427,769.6C1429,770.93 1430.37,771.42 1432,772C1433.63,772.58 1434.8,773.1 1436.8,773.1C1438.8,773.1 1441.55,772.85 1444,772C1446.45,771.15 1449.33,769.33 1451.5,768C1453.67,766.67 1455.25,765.6 1457,764C1458.75,762.4 1460.33,760.9 1462,758.4C1463.67,755.9 1465.37,752.27 1467,749C1468.63,745.73 1470.13,742.13 1471.8,738.8C1473.47,735.47 1475.37,731.8 1477,729C1478.63,726.2 1480.1,724.33 1481.6,722C1483.1,719.67 1485.27,716.17 1486,715" stroke="#ff0000" stroke-width="2.4" fill="none" stroke-linejoin="round" clip-path="url(#frame)"/>
<g fill="#ff0000" stroke="#ff0000" stroke-width="1">
<path d="M194.35,786.65 L220.85,786.65 L207.6,763.7 Z"/>
<path d="M221.15,518.35 L247.65,518.35 L234.4,495.4 Z"/>
<path d="M250.25,323.15 L276.75,323.15 L263.5,300.2 Z"/>
<path d="M280.35,646.15 L306.85,646.15 L293.6,623.2 Z"/>
<path d="M313.75,760.15 L340.25,760.15 L327,737.2 Z"/>
<path d="M348.75,634.65 L375.25,634.65 L362,611.7 Z"/>
<path d="M386.35,447.35 L412.85,447.35 L399.6,424.4 Z"/>
<path d="M427.25,386.35 L453.75,386.35 L440.5,363.4 Z"/>
<path d="M473.15,721.95 L499.65,721.95 L486.4,699 Z"/>
<path d="M521.15,738.35 L547.65,738.35 L534.4,715.4 Z"/>
<path d="M574.75,686.35 L601.25,686.35 L588,663.4 Z"/>
<path d="M633.15,570.35 L659.65,570.35 L646.4,547.4 Z"/>
<path d="M697.75,659.35 L724.25,659.35 L711,636.4 Z"/>
<path d="M768.75,719.35 L795.25,719.35 L782,696.4 Z"/>
<path d="M847.75,552.65 L874.25,552.65 L861,529.7 Z"/>
<path d="M937.75,336.75 L964.25,336.75 L951,313.8 Z"/>
<path d="M1038.75,312.35 L1065.25,312.35 L1052,289.4 Z"/>
<path d="M1152.75,666.65 L1179.25,666.65 L1166,643.7 Z"/>
<path d="M1283.75,767.35 L1310.25,767.35 L1297,744.4 Z"/>
<path d="M1438.25,776.95 L1464.75,776.95 L1451.5,754 Z"/>
</g>
<path d="M128.5,962.8v-27M128.5,14.5v27M180.5,962.8v-14M180.5,14.5v14M232.5,962.8v-27M232.5,14.5v27M284.5,962.8v-14M284.5,14.5v14M336.5,962.8v-27M336.5,14.5v27M388.5,962.8v-14M388.5,14.5v14M440.5,962.8v-27M440.5,14.5v27M493,962.8v-14M493,14.5v14M545,962.8v-27M545,14.5v27M597,962.8v-14M597,14.5v14M649,962.8v-27M649,14.5v27M701,962.8v-14M701,14.5v14M753,962.8v-27M753,14.5v27M805,962.8v-14M805,14.5v14M857,962.8v-27M857,14.5v27M909,962.8v-14M909,14.5v14M961,962.8v-27M961,14.5v27M1013,962.8v-14M1013,14.5v14M1065,962.8v-27M1065,14.5v27M1117,962.8v-14M1117,14.5v14M1169.5,962.8v-27M1169.5,14.5v27M1221.5,962.8v-14M1221.5,14.5v14M1273.5,962.8v-27M1273.5,14.5v27M1325.5,962.8v-14M1325.5,14.5v14M1377.5,962.8v-27M1377.5,14.5v27M1429.5,962.8v-14M1429.5,14.5v14M1481.5,962.8v-27M1481.5,14.5v27M128.5,962.8h27M1481.5,962.8h-27M128.5,895.06h14M1481.5,895.06h-14M128.5,827.33h27M1481.5,827.33h-27M128.5,759.59h14M1481.5,759.59h-14M128.5,691.86h27M1481.5,691.86h-27M128.5,624.12h14M1481.5,624.12h-14M128.5,556.39h27M1481.5,556.39h-27M128.5,488.65h14M1481.5,488.65h-14M128.5,420.91h27M1481.5,420.91h-27M128.5,353.18h14M1481.5,353.18h-14M128.5,285.44h27M1481.5,285.44h-27M128.5,217.71h14M1481.5,217.71h-14M128.5,149.97h27M1481.5,149.97h-27M128.5,82.24h14M1481.5,82.24h-14M128.5,14.5h27M1481.5,14.5h-27" stroke="#000" stroke-width="1.2" fill="none"/>
<rect x="128.5" y="14.5" width="1353" height="948.3" fill="none" stroke="#000" stroke-width="1.3"/>
<text x="128.5" y="1000.5" font-size="38" text-anchor="middle">7</text>
<text x="232.58" y="1000.5" font-size="38" text-anchor="middle">8</text>
<text x="336.65" y="1000.5" font-size="38" text-anchor="middle">9</text>
<text x="440.73" y="1000.5" font-size="38" text-anchor="middle">10</text>
<text x="544.81" y="1000.5" font-size="38" text-anchor="middle">11</text>
<text x="648.88" y="1000.5" font-size="38" text-anchor="middle">12</text>
<text x="752.96" y="1000.5" font-size="38" text-anchor="middle">13</text>
<text x="857.04" y="1000.5" font-size="38" text-anchor="middle">14</text>
<text x="961.12" y="1000.5" font-size="38" text-anchor="middle">15</text>
<text x="1065.19" y="1000.5" font-size="38" text-anchor="middle">16</text>
<text x="1169.27" y="1000.5" font-size="38" text-anchor="middle">17</text>
<text x="1273.35" y="1000.5" font-size="38" text-anchor="middle">18</text>
<text x="1377.42" y="1000.5" font-size="38" text-anchor="middle">19</text>
<text x="1481.5" y="1000.5" font-size="38" text-anchor="middle">20</text>
<text x="116" y="975.6" font-size="38" text-anchor="end">0.88</text>
<text x="116" y="840.13" font-size="38" text-anchor="end">0.9</text>
<text x="116" y="704.66" font-size="38" text-anchor="end">0.92</text>
<text x="116" y="569.19" font-size="38" text-anchor="end">0.94</text>
<text x="116" y="433.71" font-size="38" text-anchor="end">0.96</text>
<text x="116" y="298.24" font-size="38" text-anchor="end">0.98</text>
<text x="116" y="162.77" font-size="38" text-anchor="end">1</text>
<text x="116" y="27.3" font-size="38" text-anchor="end">1.02</text>
<text x="805.5" y="1041.7" font-size="38" text-anchor="middle">Wavelength (µm)</text>
<text transform="translate(28,488.5) rotate(-90)" font-size="38" text-anchor="middle">Emissivity or 1-Reflectance</text>
<rect x="803.5" y="748.5" width="550" height="196.5" fill="#fff" stroke="#000" stroke-width="1.2"/>
<line x1="829.6" y1="775" x2="884.5" y2="775" stroke="#000" stroke-width="1.6" stroke-dasharray="3.5 3.7"/>
<line x1="817" y1="819.4" x2="899" y2="819.4" stroke="#000" stroke-width="1.9"/>
<path d="M830.4,806.1v26.6M817.1,819.4h26.6M821,810l18.81,18.81M821,828.8l18.81,-18.81M885,806.1v26.6M871.7,819.4h26.6M875.6,810l18.81,18.81M875.6,828.8l18.81,-18.81" stroke="#111" stroke-width="1.1" fill="none"/>
<line x1="830.5" y1="866.6" x2="885" y2="866.6" stroke="#0000ff" stroke-width="1.6"/>
<circle cx="830.5" cy="866.6" r="13.5" fill="#0000ff"/><circle cx="885" cy="866.6" r="13.5" fill="#0000ff"/>
<line x1="830.4" y1="915" x2="885" y2="915" stroke="#ff0000" stroke-width="2.4"/>
<path d="M817.15,923.15 L843.65,923.15 L830.4,900.2 ZM871.75,923.15 L898.25,923.15 L885,900.2 Z" fill="#ff0000" stroke="#ff0000" stroke-width="1"/>
<text x="913" y="787.6" font-size="38">Artifact</text>
<text x="913" y="827.2" font-size="38">olivine (&lt; 45 µm), shifted</text>
<text x="913" y="874.7" font-size="38">pyroxene (&lt; 45 µm), shifted</text>
<text x="913" y="923.2" font-size="38">diopside (&lt; 45 µm), shifted</text>
</svg></body></html>
